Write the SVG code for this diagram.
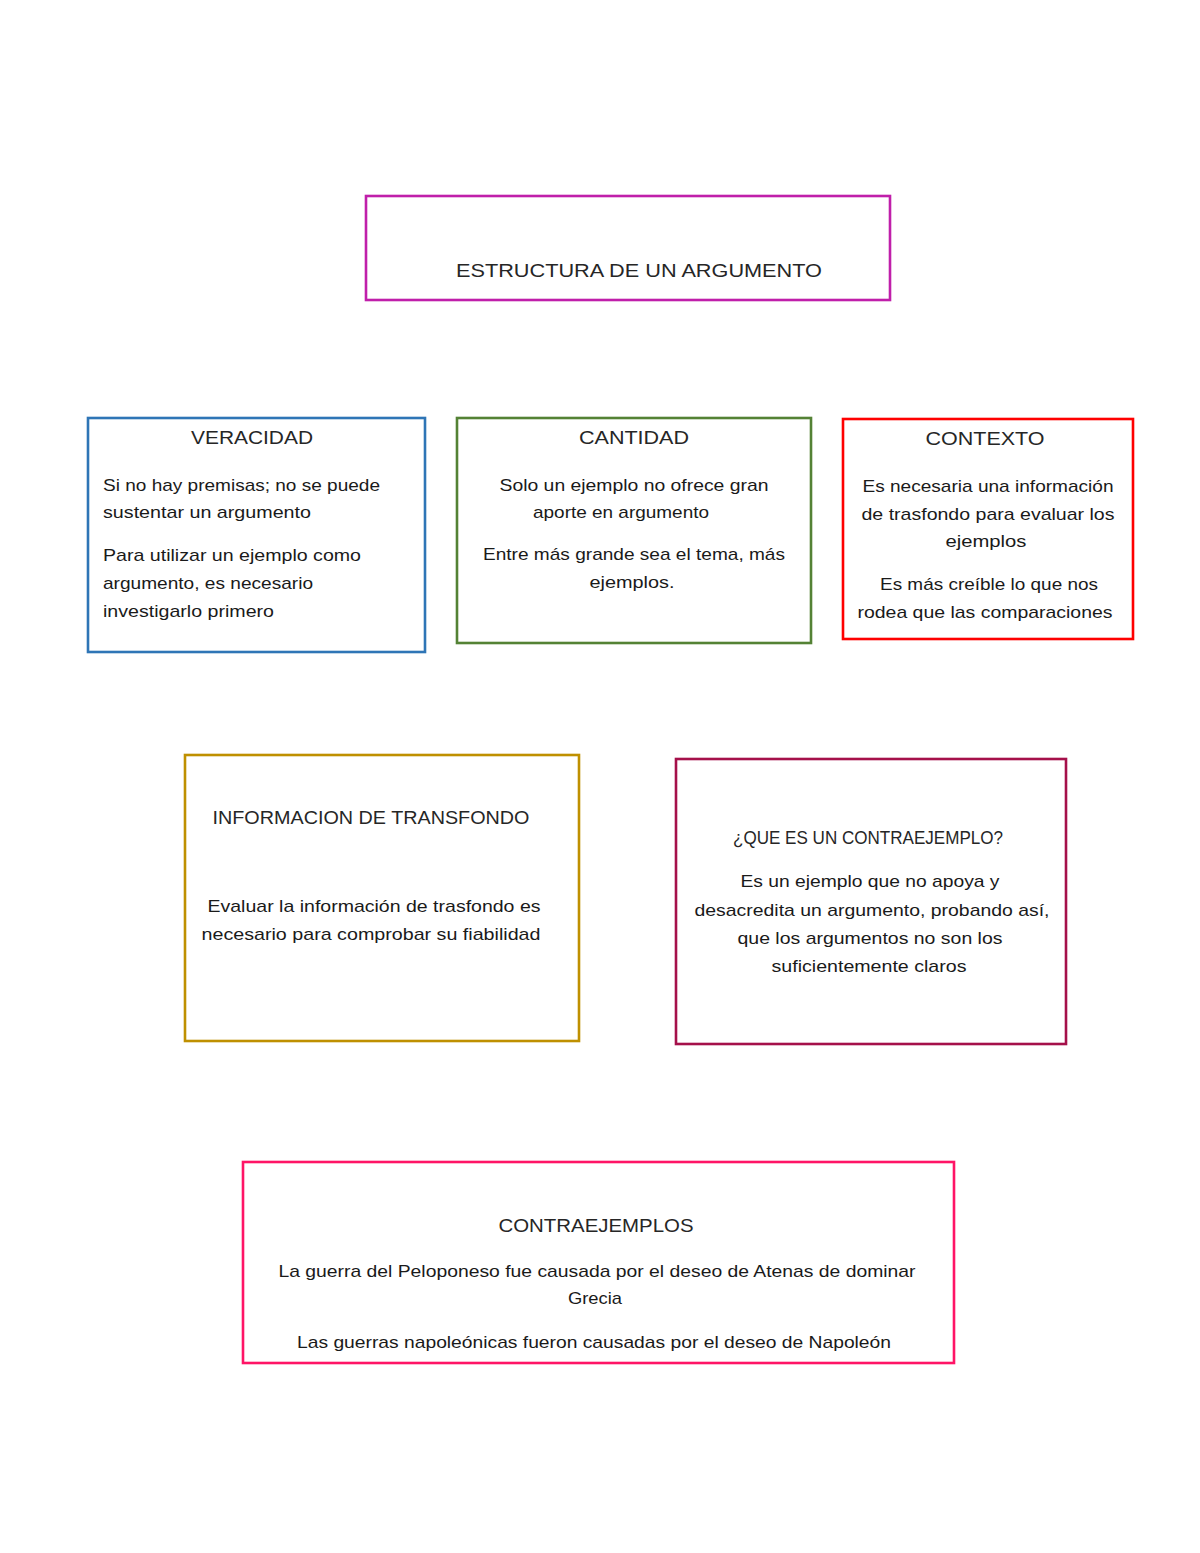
<svg xmlns="http://www.w3.org/2000/svg" width="1200" height="1553" viewBox="0 0 1200 1553">
<style>
.box{fill:#ffffff;stroke-width:2.6}
.h{font-family:"Liberation Sans",Arial,sans-serif;font-size:19px;fill:#262626;text-anchor:middle}
.b{font-family:"Liberation Sans",Arial,sans-serif;font-size:17px;fill:#1a1a1a;text-anchor:middle}
.l{text-anchor:start}
</style>
<rect x="0" y="0" width="1200" height="1553" fill="#ffffff"/>
<g id="connectors"></g>
<g id="n-estructura">
<rect class="box" x="366" y="196" width="524" height="104" stroke="#C01FAA"/>
<text class="h" x="639" y="277" textLength="366" lengthAdjust="spacingAndGlyphs">ESTRUCTURA DE UN ARGUMENTO</text>
</g>
<g id="n-veracidad">
<rect class="box" x="88" y="418" width="337" height="234" stroke="#2E75B6"/>
<text class="h" x="252" y="444" textLength="122" lengthAdjust="spacingAndGlyphs">VERACIDAD</text>
<text class="b l" x="103" y="491" textLength="277" lengthAdjust="spacingAndGlyphs">Si no hay premisas; no se puede</text>
<text class="b l" x="103" y="518" textLength="208" lengthAdjust="spacingAndGlyphs">sustentar un argumento</text>
<text class="b l" x="103" y="561" textLength="258" lengthAdjust="spacingAndGlyphs">Para utilizar un ejemplo como</text>
<text class="b l" x="103" y="589" textLength="210" lengthAdjust="spacingAndGlyphs">argumento, es necesario</text>
<text class="b l" x="103" y="617" textLength="171" lengthAdjust="spacingAndGlyphs">investigarlo primero</text>
</g>
<g id="n-cantidad">
<rect class="box" x="457" y="418" width="354" height="225" stroke="#548235"/>
<text class="h" x="634" y="444" textLength="110" lengthAdjust="spacingAndGlyphs">CANTIDAD</text>
<text class="b" x="634" y="491" textLength="269" lengthAdjust="spacingAndGlyphs">Solo un ejemplo no ofrece gran</text>
<text class="b" x="621" y="518" textLength="176" lengthAdjust="spacingAndGlyphs">aporte en argumento</text>
<text class="b" x="634" y="560" textLength="302" lengthAdjust="spacingAndGlyphs">Entre más grande sea el tema, más</text>
<text class="b" x="632" y="588" textLength="85" lengthAdjust="spacingAndGlyphs">ejemplos.</text>
</g>
<g id="n-contexto">
<rect class="box" x="843" y="419" width="290" height="220" stroke="#FF0000"/>
<text class="h" x="985" y="445" textLength="119" lengthAdjust="spacingAndGlyphs">CONTEXTO</text>
<text class="b" x="988" y="492" textLength="251" lengthAdjust="spacingAndGlyphs">Es necesaria una información</text>
<text class="b" x="988" y="520" textLength="253" lengthAdjust="spacingAndGlyphs">de trasfondo para evaluar los</text>
<text class="b" x="986" y="547" textLength="81" lengthAdjust="spacingAndGlyphs">ejemplos</text>
<text class="b" x="989" y="590" textLength="218" lengthAdjust="spacingAndGlyphs">Es más creíble lo que nos</text>
<text class="b" x="985" y="618" textLength="255" lengthAdjust="spacingAndGlyphs">rodea que las comparaciones</text>
</g>
<g id="n-informacion">
<rect class="box" x="185" y="755" width="394" height="286" stroke="#BF9000"/>
<text class="h" x="371" y="824" textLength="317" lengthAdjust="spacingAndGlyphs">INFORMACION DE TRANSFONDO</text>
<text class="b" x="374" y="912" textLength="333" lengthAdjust="spacingAndGlyphs">Evaluar la información de trasfondo es</text>
<text class="b" x="371" y="940" textLength="339" lengthAdjust="spacingAndGlyphs">necesario para comprobar su fiabilidad</text>
</g>
<g id="n-que-es">
<rect class="box" x="676" y="759" width="390" height="285" stroke="#A5104A"/>
<text class="h" x="868" y="844" font-size="17" textLength="270" lengthAdjust="spacingAndGlyphs">¿QUE ES UN CONTRAEJEMPLO?</text>
<text class="b" x="870" y="887" textLength="259" lengthAdjust="spacingAndGlyphs">Es un ejemplo que no apoya y</text>
<text class="b" x="872" y="916" textLength="355" lengthAdjust="spacingAndGlyphs">desacredita un argumento, probando así,</text>
<text class="b" x="870" y="944" textLength="265" lengthAdjust="spacingAndGlyphs">que los argumentos no son los</text>
<text class="b" x="869" y="972" textLength="195" lengthAdjust="spacingAndGlyphs">suficientemente claros</text>
</g>
<g id="n-contraejemplos">
<rect class="box" x="243" y="1162" width="711" height="201" stroke="#FF1466"/>
<text class="h" x="596" y="1232" textLength="195" lengthAdjust="spacingAndGlyphs">CONTRAEJEMPLOS</text>
<text class="b" x="597" y="1277" textLength="637" lengthAdjust="spacingAndGlyphs">La guerra del Peloponeso fue causada por el deseo de Atenas de dominar</text>
<text class="b" x="595" y="1304" textLength="54" lengthAdjust="spacingAndGlyphs">Grecia</text>
<text class="b" x="594" y="1348" textLength="594" lengthAdjust="spacingAndGlyphs">Las guerras napoleónicas fueron causadas por el deseo de Napoleón</text>
</g>
</svg>
